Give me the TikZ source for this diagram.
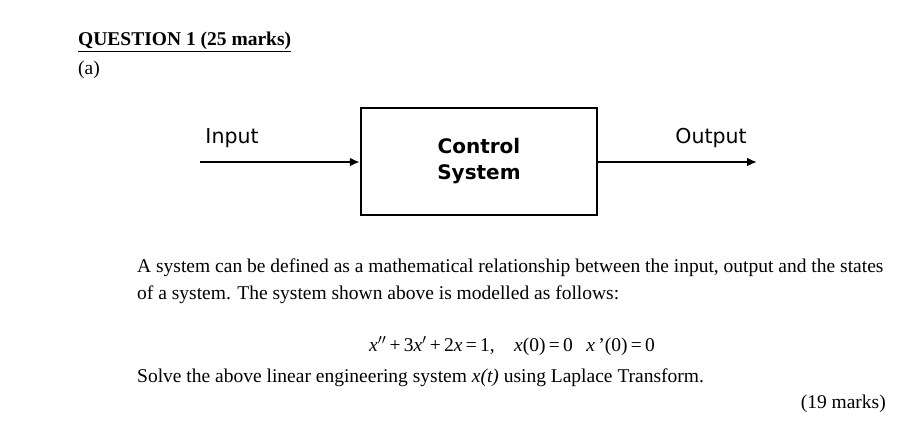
\documentclass[tikz,border=0pt]{standalone}
\usepackage{fontspec}
\setmainfont{Liberation Serif}
\newfontfamily\dv{DejaVu Sans}
\usetikzlibrary{arrows.meta}
\begin{document}
\begin{tikzpicture}[x=1pt,y=1pt,
  txt/.style={inner sep=0pt,font=\fontsize{19.5}{22}\selectfont},
  lab/.style={inner sep=0pt,font=\dv\fontsize{20.5}{24}\selectfont},
  conn/.style={line width=2pt,-{Latex[length=10pt,width=9pt]}}]
\useasboundingbox (0,0) rectangle (898,432);
\fill[white] (0,0) rectangle (898,432);
\node[txt,anchor=west] (q) at (78,390) {\textbf{\underline{QUESTION 1 (25 marks)}}};
\node[txt,anchor=west] (a) at (78,362) {(a)};
\node[draw,line width=2.5pt,minimum width=236pt,minimum height=107pt,
  font=\dv\bfseries\fontsize{20}{26}\selectfont,align=center] (sys) at (479,270.5) {Control\\System};
\coordinate (in) at (200,270);
\coordinate (out) at (757,270);
\draw[conn] (in) -- (in -| sys.west);
\draw[conn] (out -| sys.east) -- (out);
\node[lab] (il) at (232,294) {Input};
\node[lab] (ol) at (711,294) {Output};
\node[txt,anchor=west] (p1) at (137,164) {A system can be defined as a mathematical relationship between the input, output and the states};
\node[txt,anchor=west] (p2) at (137,137) {of a system. The system shown above is modelled as follows:};
\node[txt] (eq) at (512,86) {\textit{x}$''$\,+\,3\textit{x}$'$\,+\,2\textit{x}\,=\,1,\quad \textit{x}(0)\,=\,0\;\, \textit{x}\,'(0)\,=\,0};
\node[txt,anchor=west] (p3) at (137,54) {Solve the above linear engineering system \textit{x(t)} using Laplace Transform.};
\node[txt,anchor=east] (m) at (886,28) {(19 marks)};
\end{tikzpicture}
\end{document}
